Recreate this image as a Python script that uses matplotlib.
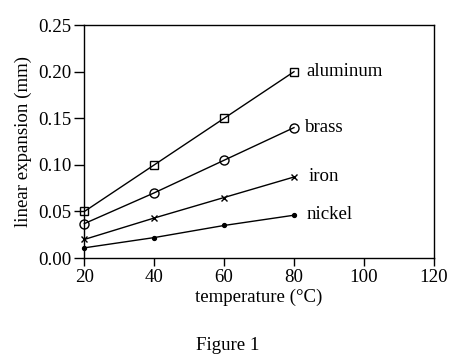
import matplotlib.pyplot as plt

plt.rcParams['font.family'] = ['Liberation Serif', 'DejaVu Serif']

temperature = [20, 40, 60, 80]
aluminum = [0.050, 0.100, 0.150, 0.200]
brass = [0.037, 0.070, 0.105, 0.140]
iron = [0.020, 0.043, 0.065, 0.087]
nickel = [0.011, 0.022, 0.035, 0.046]

series = [
    ("aluminum", aluminum, "s", 5.5, "none", 83.6, 0.200),
    ("brass", brass, "o", 6.5, "none", 83.0, 0.140),
    ("iron", iron, "x", 4.5, "black", 84.2, 0.088),
    ("nickel", nickel, "o", 2.8, "black", 83.6, 0.047),
]

fig = plt.figure(figsize=(4.74, 3.64), dpi=100)
ax = fig.add_axes([0.178, 0.291, 0.737, 0.640])

for name, vals, mk, ms, mfc, tx, ty in series:
    ax.plot(temperature, vals, color="black", lw=1.0, marker=mk, ms=ms,
            mfc=mfc, mec="black", mew=1.0, clip_on=False)
    ax.text(tx, ty, name, ha="left", va="center", fontsize=13.6)

ax.set_xlim(20, 120)
ax.set_ylim(0, 0.25)
ax.set_xticks([20, 40, 60, 80, 100, 120])
ax.set_yticks([0.00, 0.05, 0.10, 0.15, 0.20, 0.25])
ax.set_yticklabels(["0.00", "0.05", "0.10", "0.15", "0.20", "0.25"])
ax.tick_params(direction="out", labelsize=13.6, width=1.0, color="black")
ax.tick_params(axis="y", length=7, pad=2)
ax.tick_params(axis="x", length=6, pad=2)
for s in ax.spines.values():
    s.set_linewidth(1.0)

ax.set_xlabel("temperature (°C)", fontsize=13.6, labelpad=2)
ax.set_ylabel("linear expansion (mm)", fontsize=13.6, labelpad=5)

fig.text(0.48, 0.05, "Figure 1", ha="center", va="center", fontsize=13.6)

fig.savefig("out.png", dpi=100)
